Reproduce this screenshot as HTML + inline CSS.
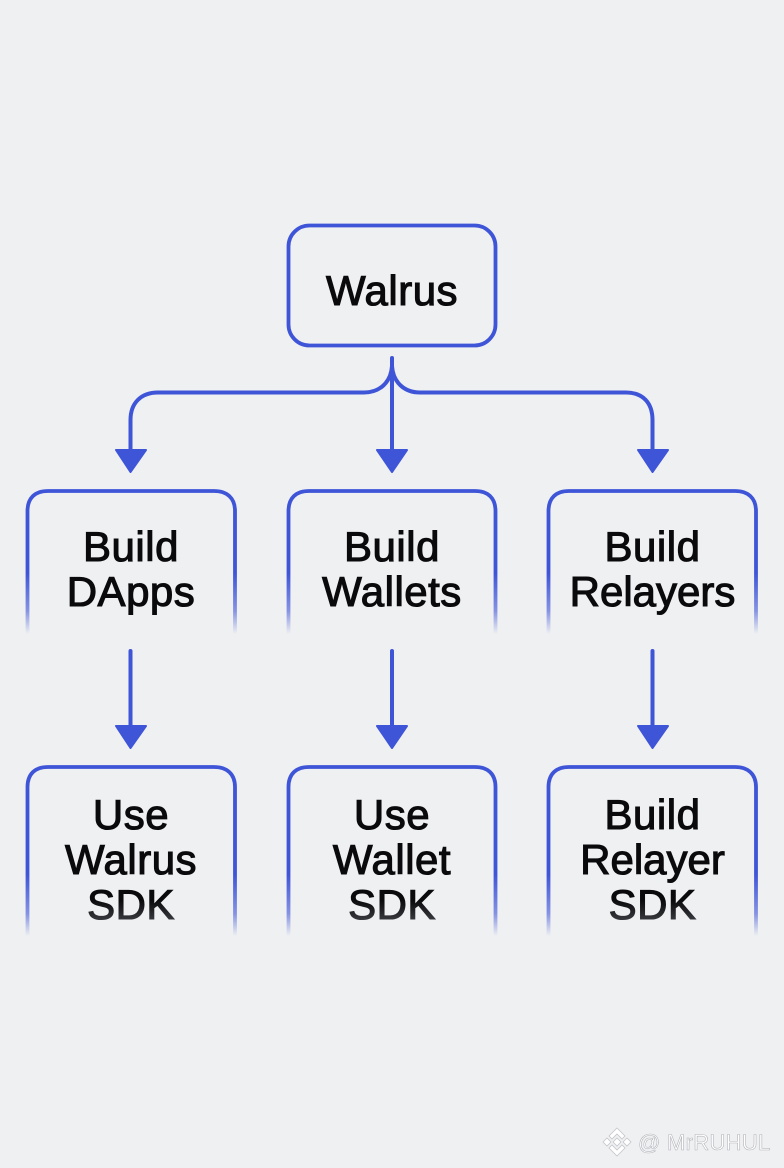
<!DOCTYPE html>
<html>
<head>
<meta charset="utf-8">
<style>
html,body{margin:0;padding:0;background:#eff0f2;}
svg{display:block;}
text{font-family:"Liberation Sans",sans-serif;font-size:42px;letter-spacing:.5px;text-anchor:middle;fill:#0a0a0c;stroke:#0a0a0c;stroke-width:1.1px;}
</style>
</head>
<body>
<svg width="784" height="1168" viewBox="0 0 784 1168" xmlns="http://www.w3.org/2000/svg">
<defs>
<linearGradient id="r2" gradientUnits="userSpaceOnUse" x1="0" y1="490" x2="0" y2="634">
<stop offset="0" stop-color="#3f55d8"/><stop offset=".58" stop-color="#3f55d8"/><stop offset=".84" stop-color="#3f55d8" stop-opacity=".6"/><stop offset="1" stop-color="#3f55d8" stop-opacity="0"/>
</linearGradient>
<linearGradient id="r3" gradientUnits="userSpaceOnUse" x1="0" y1="766" x2="0" y2="936">
<stop offset="0" stop-color="#3f55d8"/><stop offset=".64" stop-color="#3f55d8"/><stop offset=".87" stop-color="#3f55d8" stop-opacity=".6"/><stop offset="1" stop-color="#3f55d8" stop-opacity="0"/>
</linearGradient>
<linearGradient id="sdk" gradientUnits="userSpaceOnUse" x1="0" y1="900" x2="0" y2="921">
<stop offset="0" stop-color="#0a0a0c"/><stop offset="1" stop-color="#3a3b40"/>
</linearGradient>
</defs>
<rect width="784" height="1168" fill="#eff0f2"/>

<rect x="288.500" y="225.500" width="207" height="120" rx="21" fill="none" stroke="#3f55d8" stroke-width="3.800"/>
<text x="392" y="305">Walrus</text>

<g fill="none" stroke="#3f55d8" stroke-width="4" stroke-linecap="round">
<path d="M392 358V452"/>
<path d="M392 366C391 382 380 392.500 364 392.500H158C141 392.500 130.500 403 130.500 420V452"/>
<path d="M392 366C393 382 404 392.500 420 392.500H626C643 392.500 652.500 403 652.500 420V452"/>
<path d="M130.500 651V727"/>
<path d="M392 651V727"/>
<path d="M652.500 651V727"/>
</g>
<g fill="#3f55d8" stroke="#3f55d8" stroke-width="2" stroke-linejoin="round">
<path d="M116 450H146L130.500 472Z"/>
<path d="M377 450H407L392 472Z"/>
<path d="M638 450H668L652.500 472Z"/>
<path d="M116 726H146L130.500 748Z"/>
<path d="M377 726H407L392 748Z"/>
<path d="M638 726H668L652.500 748Z"/>
</g>

<g fill="none" stroke="url(#r2)" stroke-width="3.800">
<path d="M27.500 634V511C27.500 498 35 491 48 491H214C227 491 235 498 235 511V634"/>
<path d="M288.500 634V511C288.500 498 296 491 309 491H475C488 491 495.500 498 495.500 511V634"/>
<path d="M548.500 634V511C548.500 498 556 491 569 491H735C748 491 756 498 756 511V634"/>
</g>
<g fill="none" stroke="url(#r3)" stroke-width="3.800">
<path d="M27.500 936V787C27.500 774 35 767 48 767H214C227 767 235 774 235 787V936"/>
<path d="M288.500 936V787C288.500 774 296 767 309 767H475C488 767 495.500 774 495.500 787V936"/>
<path d="M548.500 936V787C548.500 774 556 767 569 767H735C748 767 756 774 756 787V936"/>
</g>

<text x="131" y="561">Build</text>
<text x="131" y="606">DApps</text>
<text x="392" y="561">Build</text>
<text x="392" y="606">Wallets</text>
<text x="652.500" y="561">Build</text>
<text x="652.500" y="606" style="letter-spacing:0">Relayers</text>

<text x="131" y="829">Use</text>
<text x="131" y="874">Walrus</text>
<text x="131" y="919" style="fill:url(#sdk);stroke:url(#sdk)">SDK</text>
<text x="392" y="829">Use</text>
<text x="392" y="874">Wallet</text>
<text x="392" y="919" style="fill:url(#sdk);stroke:url(#sdk)">SDK</text>
<text x="652.500" y="829">Build</text>
<text x="652.500" y="874" style="letter-spacing:0">Relayer</text>
<text x="652.500" y="919" style="fill:url(#sdk);stroke:url(#sdk)">SDK</text>

<g fill="#ffffff" stroke="#c4c5ca" stroke-width=".8">
<path d="M617 1128L625 1136L622 1139L617 1134L612 1139L609 1136Z"/>
<path d="M617 1156L625 1148L622 1145L617 1150L612 1145L609 1148Z"/>
<path d="M603 1142L607 1138L611 1142L607 1146Z"/>
<path d="M623 1142L627 1138L631 1142L627 1146Z"/>
<path d="M617 1138L621 1142L617 1146L613 1142Z"/>
</g>
<text x="638" y="1150" style="font-size:22px;letter-spacing:.3px;text-anchor:start;fill:#ffffff;stroke:#b4b5ba;stroke-width:.6px;">@ MrRUHUL</text>
</svg>
</body>
</html>
